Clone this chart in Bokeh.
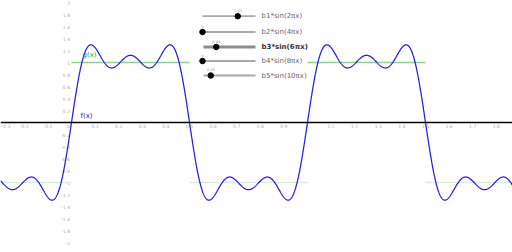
import numpy as np
from bokeh.plotting import figure
from bokeh.models import Range1d, Span, ColumnDataSource
from bokeh.core.properties import value
from bokeh.embed import file_html
from bokeh.resources import INLINE

# ---- data -------------------------------------------------------------
harmonics = [1, 2, 3, 4, 5]
b_values = [1.33, 0.0, 0.49, 0.0, 0.28]
slider_labels = ["b1*sin(2πx)", "b2*sin(4πx)", "b3*sin(6πx)", "b4*sin(8πx)", "b5*sin(10πx)"]
slider_value_labels = ["1.33", "0", "0.49", "0", "0.28"]
slider_min, slider_max = 0.0, 2.0

# g(x): square wave, drawn as horizontal pieces
g_starts = [-0.31, 0.0, 0.5, 1.0, 1.5]
g_ends = [0.0, 0.5, 1.0, 1.5, 1.88]
g_levels = [-1, 1, -1, 1, -1]

x_tick_values = [-0.3, -0.2, -0.1, 0.1, 0.2, 0.3, 0.4, 0.5, 0.6, 0.7, 0.8, 0.9,
                 1.0, 1.1, 1.2, 1.3, 1.4, 1.5, 1.6, 1.7, 1.8]
x_tick_labels = ["-0.3", "-0.2", "-0.1", "0.1", "0.2", "0.3", "0.4", "0.5", "0.6", "0.7",
                 "0.8", "0.9", "1", "1.1", "1.2", "1.3", "1.4", "1.5", "1.6", "1.7", "1.8"]
y_tick_values = [2.0, 1.8, 1.6, 1.4, 1.2, 1.0, 0.8, 0.6, 0.4, 0.2,
                 -0.2, -0.4, -0.6, -0.8, -1.0, -1.2, -1.4, -1.6, -1.8, -2.0]
y_tick_labels = ["2", "1.8", "1.6", "1.4", "1.2", "1", "0.8", "0.6", "0.4", "0.2",
                 "-0.2", "-0.4", "-0.6", "-0.8", "-1", "-1.2", "-1.4", "-1.6", "-1.8", "-2"]

# ---- view geometry ---------------------------------------------------
W, H = 512, 252
PX_PER_X = 236.0
PX_PER_Y = 60.0
ORIGIN_PX = (71.0, 122.0)
x0 = -ORIGIN_PX[0] / PX_PER_X
x1 = x0 + W / PX_PER_X
y1 = ORIGIN_PX[1] / PX_PER_Y
y0 = y1 - H / PX_PER_Y


def sx(px):
    return x0 + px / PX_PER_X


def sy(py):
    return y1 - py / PX_PER_Y


p = figure(width=W, height=H, output_backend="svg", toolbar_location=None,
           x_range=Range1d(x0, x1), y_range=Range1d(y0, y1),
           x_axis_type=None, y_axis_type=None, min_border=0)
p.outline_line_color = None
p.grid.visible = False
p.background_fill_color = "white"

# x axis
p.add_layout(Span(location=0, dimension="width", line_color="black", line_width=1.6))

# tick labels (keep the leftmost one inside the window)
tick_x = [max(v, sx(1)) for v in x_tick_values]
tick_align = ["left" if v < sx(8) else "center" for v in x_tick_values]
p.text(x=tick_x, y=[sy(ORIGIN_PX[1] + 1.5)] * len(x_tick_values), text=x_tick_labels,
       text_font=value("DejaVu Sans"), text_font_size="4.5px", text_color="#aaaaaa",
       text_align=tick_align, text_baseline="top")
p.text(x=[sx(69.5)] * len(y_tick_values), y=y_tick_values, text=y_tick_labels,
       text_font=value("DejaVu Sans"), text_font_size="4.5px", text_color="#aaaaaa",
       text_align="right", text_baseline="middle")
p.text(x=[sx(69.5)], y=[sy(123.5)], text=["0"],
       text_font=value("DejaVu Sans"), text_font_size="4.5px", text_color="#aaaaaa",
       text_align="right", text_baseline="top")

# g(x)
g_src = ColumnDataSource(dict(
    xs=[[a, b] for a, b in zip(g_starts, g_ends)],
    ys=[[lv, lv] for lv in g_levels],
    color=["#93cf93" if lv > 0 else "#d9eed9" for lv in g_levels],
))
p.multi_line(xs="xs", ys="ys", line_color="color", line_width=1.3, source=g_src)

# f(x) = sum b_k sin(2 pi k x)
xs = np.linspace(x0, x1, 2000)
fx = np.zeros_like(xs)
for k, b in zip(harmonics, b_values):
    fx += b * np.sin(2 * np.pi * k * xs)
p.line(xs, fx, line_color="#2020e6", line_width=1.25)

p.text(x=[sx(80)], y=[sy(115.5)], text=["f(x)"], text_font=value("DejaVu Sans"),
       text_font_size="7px", text_color="#1a1ac0", text_baseline="middle")
p.text(x=[sx(82)], y=[sy(54)], text=["g(x)"], text_font=value("DejaVu Sans"),
       text_font_size="7px", text_color="#2e9a2e", text_baseline="middle")

# sliders
slider_y_px = [15.7, 31.5, 46.5, 60.5, 75.0]
slider_x_px = [[202, 255], [202, 255], [203, 255], [202, 255], [203, 255]]
for i, (b, lab, vlab) in enumerate(zip(b_values, slider_labels, slider_value_labels)):
    yy = sy(slider_y_px[i])
    a, e = slider_x_px[i]
    bold = (i == 2)
    p.line([sx(a), sx(e)], [yy, yy], line_color="#8c8c8c" if bold else "#a8a8a8",
           line_width=3.2 if bold else 1.8)
    kx = sx(a + (b - slider_min) / (slider_max - slider_min) * (e - a))
    p.scatter([kx], [yy], size=5.5, fill_color="black", line_color="black")
    p.text(x=[kx], y=[yy + 4.5 / PX_PER_Y], text=[vlab], text_font=value("DejaVu Sans"),
           text_font_size="3.5px", text_color="#999999", text_align="center",
           text_baseline="bottom")
    p.text(x=[sx(261)], y=[yy], text=[lab], text_font=value("DejaVu Sans"),
           text_font_size="7px", text_color="#333333" if bold else "#666666",
           text_font_style="bold" if bold else "normal", text_baseline="middle")

open("out.html", "w").write(file_html(p, INLINE))
